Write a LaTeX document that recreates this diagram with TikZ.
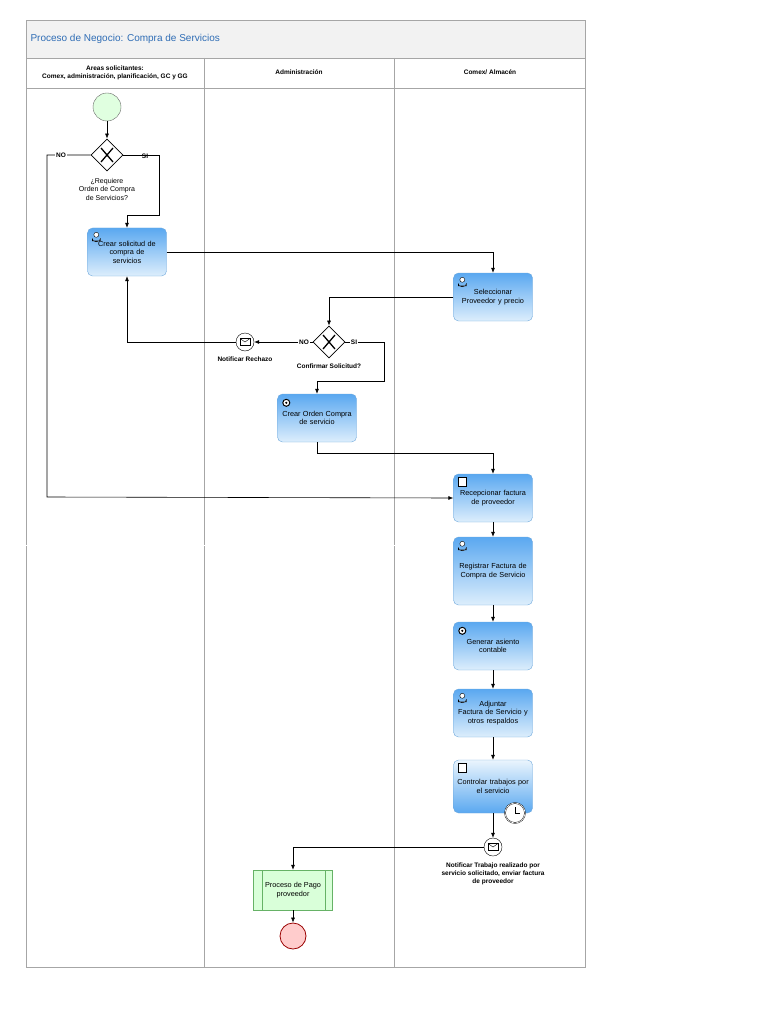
\documentclass[tikz,border=0pt]{standalone}
\usepackage{fontspec}
\setmainfont{Liberation Sans}
\usetikzlibrary{arrows.meta,shapes.geometric}
\definecolor{tblue}{HTML}{5AA8F0}
\definecolor{tlight}{HTML}{DDEEFC}
\definecolor{tborder}{HTML}{6FA8DC}
\definecolor{ttitle}{HTML}{2F6DB5}
\begin{document}
\begin{tikzpicture}[x=1pt,y=-1pt,
  font=\fontsize{7.3}{8.5}\selectfont,
  task/.style={draw=tborder,rounded corners=5pt,top color=tblue,bottom color=tlight,minimum width=79pt,minimum height=48pt,align=center,text width=76pt,inner sep=1pt},
  gw/.style={diamond,draw,thick,fill=white,minimum width=32pt,minimum height=32pt,inner sep=0pt},
  ev/.style={circle,draw,fill=white,minimum size=18pt,inner sep=0pt},
  flow/.style={draw,-{Latex[length=5pt,width=4pt]},line width=0.6pt},
  lane/.style={draw=gray!70,line width=0.6pt},
  lbl/.style={align=center,font=\fontsize{6.5}{8}\selectfont\bfseries}]
\useasboundingbox (0,0) rectangle (768,1024);
% frame
\fill[gray!10] (26,20) rectangle (585,58);
\draw[lane] (26,20) rectangle (585,967);
\draw[lane] (26,58) -- (585,58);
\draw[lane] (26,88) -- (585,88);
\draw[lane] (204,58) -- (204,967);
\draw[lane] (394,58) -- (394,967);
\draw[white,line width=1pt] (26,545) -- (585,545);
\node[anchor=west,text=ttitle,font=\fontsize{10}{12}\selectfont] (title) at (27,39) {Proceso de Negocio: Compra de Servicios};
\node[lbl] (h1) at (115,73) {Areas solicitantes:\\Comex, administración, planificación, GC y GG};
\node[lbl] (h2) at (299,72) {Administración};
\node[lbl] (h3) at (490,72) {Comex/ Almacén};
% nodes
\node[circle,draw=gray!80!black,fill=green!12,minimum size=28pt,inner sep=0pt] (start) at (107,107) {};
\node[gw] (g1) at (107,155) {};
\node[lbl,font=\fontsize{7}{8.5}\selectfont] (g1l) at (107,189) {¿Requiere\\Orden de Compra\\de Servicios?};
\node[task] (t1) at (127,252) {Crear solicitud de\\compra de\\servicios};
\node[task] (t2) at (493,297) {Seleccionar\\Proveedor y precio};
\node[gw] (g2) at (329,342) {};
\foreach \g in {g1,g2}{
 \draw[line width=1.3pt] ([shift={(-6,-7)}]\g.center) -- ([shift={(6,7)}]\g.center)
   ([shift={(6,-7)}]\g.center) -- ([shift={(-6,7)}]\g.center);}
\node[lbl] (g2l) at (329,366) {Confirmar Solicitud?};
\node[ev] (e1) at (245,342) {};
\node[lbl] (e1l) at (245,359) {Notificar Rechazo};
\node[task] (t3) at (317,418) {Crear Orden Compra\\de servicio};
\node[task] (t4) at (493,498) {Recepcionar factura\\de proveedor};
\node[task,minimum height=68pt] (t5) at (493,571) {Registrar Factura de\\Compra de Servicio};
\node[task] (t6) at (493,646) {Generar asiento\\contable};
\node[task] (t7) at (493,713) {Adjuntar\\Factura de Servicio y\\otros respaldos};
\node[task,minimum height=53pt,top color=tlight!60,bottom color=tblue] (t8) at (493,786.5) {Controlar trabajos por\\el servicio};
\node[circle,draw,fill=white,minimum size=20pt,inner sep=0pt,double] (timer) at (515,813) {};
\draw (timer.center) -- ++(0,-6) (timer.center) -- ++(5,0);
\node[ev] (e2) at (493,847) {};
\node[lbl] (e2l) at (493,874) {Notificar Trabajo realizado por\\servicio solicitado, enviar factura\\de proveedor};
\node[draw=green!50!black!60,fill=green!15,minimum width=79pt,minimum height=40pt,align=center,inner sep=1pt] (p) at (293,890) {Proceso de Pago\\proveedor};
\draw[green!50!black!60] (262,870) -- (262,910) (325,870) -- (325,910);
\node[circle,draw=red!60!black,thick,fill=red!20,minimum size=26pt,inner sep=0pt] (end) at (293,936) {};
% envelopes
\foreach \e in {e1,e2}{
 \draw ([shift={(-5,-3.5)}]\e.center) rectangle ([shift={(5,3.5)}]\e.center);
 \draw ([shift={(-5,-3.5)}]\e.center) -- (\e.center) -- ([shift={(5,-3.5)}]\e.center);}
% icons
\foreach \t in {t1,t2,t5,t7}{
 \draw[fill=white] ([shift={(9,7)}]\t.north west) circle (2.5pt);
 \draw[fill=white] ([shift={(5,13)}]\t.north west) -- ++(0,-2) arc (180:0:4 and 3) -- ++(0,2) -- cycle;}
\foreach \t in {t3,t6}{
 \draw[fill=white,line width=1pt] ([shift={(9,9)}]\t.north west) circle (3.5pt);
 \fill ([shift={(9,9)}]\t.north west) circle (1.2pt);}
\foreach \t in {t4,t8}{
 \draw[fill=white] ([shift={(5,3)}]\t.north west) rectangle ++(8,9);}
% flows
\draw[flow] (start) -- (g1);
\draw[flow] (g1.west) -- (47,155) -- (47,497) -- (t4.west);
\node[lbl,inner sep=1pt,fill=white] (no1) at (61,155) {NO};
\node[lbl,inner sep=1pt,fill=white] (si1) at (145,156) {SI};
\draw[flow] (g1.east) -- (159,155) -- (159,215) -- (127,215) -- (t1.north);
\draw[flow] (t1.east) -- (493,252) -- (t2.north);
\draw[flow] (t2.west) -- (329,297) -- (g2.north);
\draw[flow] (g2.west) -- (e1.east);
\node[lbl,inner sep=1pt,fill=white] (no2) at (304,342) {NO};
\draw[flow] (e1.west) -- (127,342) -- (t1.south);
\draw[flow] (g2.east) -- (384,342) -- (384,381) -- (317,381) -- (t3.north);
\node[lbl,inner sep=1pt,fill=white] (si2) at (354,342) {SI};
\draw[flow] (t3.south) -- (317,453) -- (493,453) -- (t4.north);
\draw[flow] (t4) -- (t5);
\draw[flow] (t5) -- (t6);
\draw[flow] (t6) -- (t7);
\draw[flow] (t7) -- (t8);
\draw[flow] (t8) -- (e2);
\draw[flow] (e2.west) -- (293,847) -- (p.north);
\draw[flow] (p) -- (end);
\end{tikzpicture}
\end{document}
